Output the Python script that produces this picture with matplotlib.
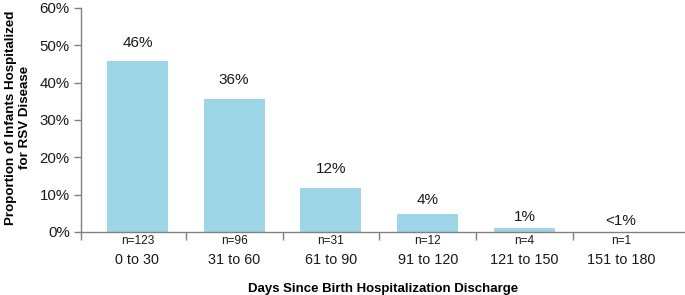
import matplotlib
matplotlib.use("Agg")
import matplotlib.pyplot as plt
import numpy as np

plt.rcParams['font.family'] = ['Liberation Sans', 'DejaVu Sans']

categories = ["0 to 30", "31 to 60", "61 to 90", "91 to 120", "121 to 150", "151 to 180"]
counts = ["n=123", "n=96", "n=31", "n=12", "n=4", "n=1"]
values = [45.9, 35.6, 11.9, 4.9, 1.0, 0.0]
value_labels = ["46%", "36%", "12%", "4%", "1%", "<1%"]

# label offsets above bar tops (points) - style only
label_offsets = [13, 13.5, 13.5, 10, 8, 8]

bar_color = "#9DD7E7"
axis_color = "#808080"
text_color = "#1a1a1a"

fig = plt.figure(figsize=(6.85, 2.95), dpi=100)
ax = fig.add_axes([0.118, 0.2136, 0.882, 0.7594])

x = np.arange(len(categories))
ax.bar(x, values, width=0.63, color=bar_color, zorder=2)

for xi, v, lab, off in zip(x, values, value_labels, label_offsets):
    ax.annotate(lab, (xi, v), xytext=(0, off), textcoords="offset points",
                ha="center", va="center", fontsize=11, color=text_color)

ax.set_ylim(0, 60)
ax.set_xlim(-0.585, 5.66)
ax.set_yticks(np.arange(0, 61, 10))
ax.set_yticklabels([f"{v}%" for v in range(0, 61, 10)], fontsize=10.8, color=text_color)

ax.set_xticks(x)
ax.set_xticklabels(categories, fontsize=10.4, color=text_color)
ax.tick_params(axis="x", which="major", length=0, pad=15)
ax.set_xticks(list(np.arange(0.5, 5.0, 1.0)) + [-0.585], minor=True)
ax.tick_params(axis="x", which="minor", length=6, color=axis_color, width=1)
ax.tick_params(axis="y", length=5, color=axis_color, width=1, pad=3)

for xi, c in zip(x, counts):
    ax.text(xi, -0.042, c, transform=ax.get_xaxis_transform(),
            ha="center", va="center", fontsize=8.6, color=text_color)

for s in ["top", "right"]:
    ax.spines[s].set_visible(False)
for s in ["left", "bottom"]:
    ax.spines[s].set_color(axis_color)
    ax.spines[s].set_linewidth(1)

ax.set_xlabel("Days Since Birth Hospitalization Discharge", fontsize=9.5,
              fontweight="bold", labelpad=12)
ax.set_ylabel("Proportion of Infants Hospitalized\nfor RSV Disease", fontsize=9.6,
              fontweight="bold", linespacing=1.2)
ax.yaxis.set_label_coords(-0.083, 0.511)

fig.savefig("out.png", dpi=100)
